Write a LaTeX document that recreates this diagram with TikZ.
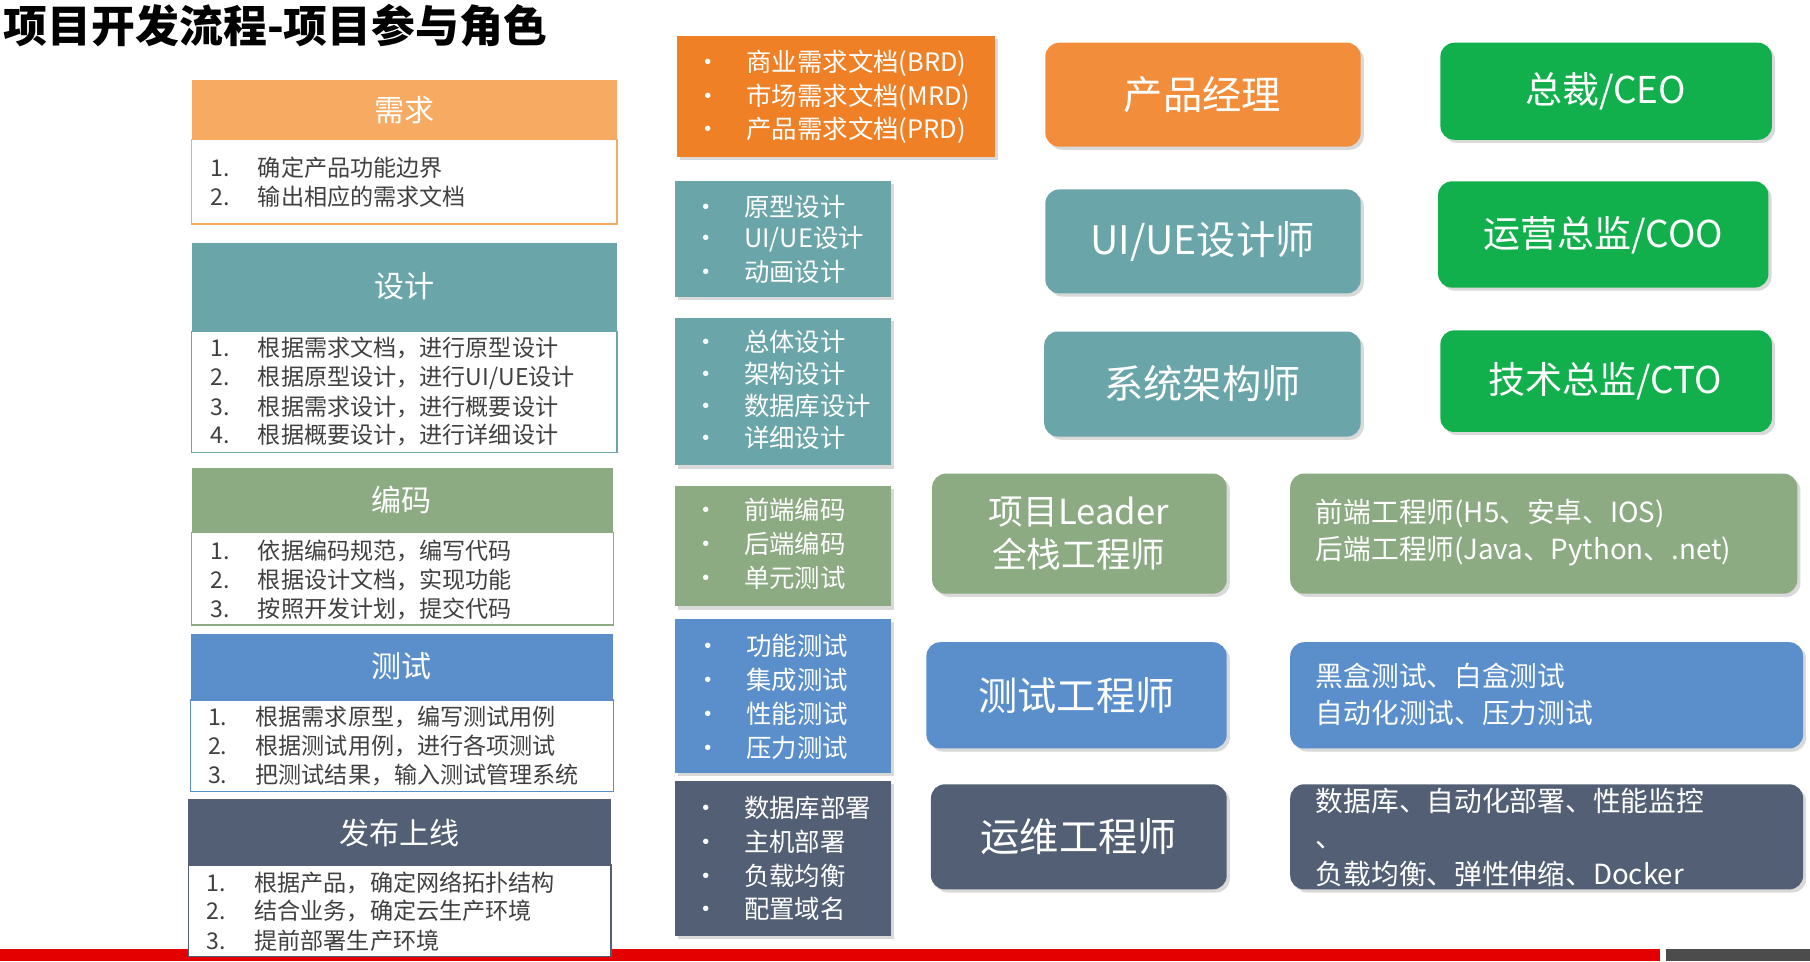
\documentclass[tikz,border=0pt]{standalone}
\usepackage{fontspec}
\setmainfont{Noto Sans CJK SC}
\usetikzlibrary{shadows}
\definecolor{cOrange}{HTML}{F7AA62}
\definecolor{cDeep}{HTML}{F08025}
\definecolor{cTeal}{HTML}{6AA5A9}
\definecolor{cGreen}{HTML}{8CAB82}
\definecolor{cBlue}{HTML}{5B8FCC}
\definecolor{cDark}{HTML}{535F75}
\definecolor{cBoss}{HTML}{12B04C}
\tikzset{
  head/.style={fill=#1, text=white, font=\fontsize{26}{30}\selectfont, inner sep=0pt},
  body/.style={draw=#1, line width=1.2pt, fill=white},
  item/.style={anchor=west, text=black!75, font=\fontsize{20}{22}\selectfont, inner sep=0pt},
  bullets/.style={fill=#1, drop shadow={opacity=0.3}},
  bitem/.style={anchor=west, text=white, font=\fontsize{22}{24}\selectfont, inner sep=0pt},
  role/.style={fill=#1, rounded corners=12pt, drop shadow={opacity=0.3}},
  rtext/.style={text=white, font=\fontsize{34}{36}\selectfont, align=center, inner sep=0pt},
  ltext/.style={text=white, font=\fontsize{24}{32}\selectfont, align=left, anchor=west, inner sep=0pt}
}
\begin{document}
\begin{tikzpicture}[x=1pt,y=-1pt]
\useasboundingbox (0,0) rectangle (1567,832);
% title
\node[anchor=west, font=\fontsize{38}{40}\selectfont\bfseries, inner sep=0pt] (title) at (3,22) {项目开发流程-项目参与角色};
% bottom bar
\fill[red!90!black] (0,822) rectangle (1437,832);
\fill[black!70] (1442,822) rectangle (1567,832);

% left column
\draw[body=cOrange] (166,121) rectangle (534,194);
\fill[cOrange] (166,69) rectangle (534,121);
\node[head=cOrange] (xq) at (350,95) {需求};
\node[item] (xq1) at (182,145) {1.\quad\ 确定产品功能边界};
\node[item] (xq2) at (182,170) {2.\quad\ 输出相应的需求文档};

\draw[body=cTeal] (166,287) rectangle (534,392);
\fill[cTeal] (166,210) rectangle (534,287);
\node[head=cTeal] (sj) at (350,248) {设计};
\node[item] (sj1) at (182,301) {1.\quad\ 根据需求文档，进行原型设计};
\node[item] (sj2) at (182,327) {2.\quad\ 根据原型设计，进行UI/UE设计};
\node[item] (sj3) at (182,352) {3.\quad\ 根据需求设计，进行概要设计};
\node[item] (sj4) at (182,377) {4.\quad\ 根据概要设计，进行详细设计};

\draw[body=cGreen] (166,461) rectangle (531,541);
\fill[cGreen] (166,405) rectangle (531,461);
\node[head=cGreen] (bm) at (348,433) {编码};
\node[item] (bm1) at (182,477) {1.\quad\ 依据编码规范，编写代码};
\node[item] (bm2) at (182,502) {2.\quad\ 根据设计文档，实现功能};
\node[item] (bm3) at (182,527) {3.\quad\ 按照开发计划，提交代码};

\draw[body=cBlue] (165,606) rectangle (531,685);
\fill[cBlue] (165,549) rectangle (531,606);
\node[head=cBlue] (cs) at (348,577) {测试};
\node[item] (cs1) at (180,621) {1.\quad\ 根据需求原型，编写测试用例};
\node[item] (cs2) at (180,646) {2.\quad\ 根据测试用例，进行各项测试};
\node[item] (cs3) at (180,671) {3.\quad\ 把测试结果，输入测试管理系统};

\draw[body=cDark] (163,749) rectangle (529,828);
\fill[cDark] (163,692) rectangle (529,749);
\node[head=cDark] (fb) at (346,721) {发布上线};
\node[item] (fb1) at (179,764) {1.\quad\ 根据产品，确定网络拓扑结构};
\node[item] (fb2) at (179,789) {2.\quad\ 结合业务，确定云生产环境};
\node[item] (fb3) at (179,814) {3.\quad\ 提前部署生产环境};

% middle column
\fill[bullets=cDeep] (586,31) rectangle (861,136);
\foreach \t [count=\i] in {商业需求文档(BRD),市场需求文档(MRD),产品需求文档(PRD)}
  \node[bitem] (doc\i) at (602,26+29*\i) {•\quad \t};
\fill[bullets=cTeal] (584,157) rectangle (771,257);
\foreach \t [count=\i] in {原型设计,UI/UE设计,动画设计}
  \node[bitem] (ux\i) at (600,151+28*\i) {•\quad \t};
\fill[bullets=cTeal] (584,275) rectangle (771,403);
\foreach \t [count=\i] in {总体设计,架构设计,数据库设计,详细设计}
  \node[bitem] (ar\i) at (600,268+27.7*\i) {•\quad \t};
\fill[bullets=cGreen] (584,421) rectangle (771,525);
\foreach \t [count=\i] in {前端编码,后端编码,单元测试}
  \node[bitem] (co\i) at (600,412+29.5*\i) {•\quad \t};
\fill[bullets=cBlue] (584,536) rectangle (771,669);
\foreach \t [count=\i] in {功能测试,集成测试,性能测试,压力测试}
  \node[bitem] (te\i) at (602,530+29.3*\i) {•\quad \t};
\fill[bullets=cDark] (584,676) rectangle (771,810);
\foreach \t [count=\i] in {数据库部署,主机部署,负载均衡,配置域名}
  \node[bitem] (op\i) at (600,670+29.3*\i) {•\quad \t};

% roles
\fill[role=cDeep!90] (905,37) rectangle (1178,127);
\node[rtext] (pm) at (1041,82) {产品经理};
\fill[role=cTeal] (905,164) rectangle (1178,254);
\node[rtext] (ui) at (1041,209) {UI/UE设计师};
\fill[role=cTeal] (904,287) rectangle (1178,378);
\node[rtext] (sa) at (1041,332) {系统架构师};
\fill[role=cGreen] (807,410) rectangle (1062,514);
\node[rtext, font=\fontsize{30}{38}\selectfont] (pl) at (934,462) {项目Leader\\全栈工程师};
\fill[role=cBlue] (802,556) rectangle (1062,648);
\node[rtext] (qa) at (932,602) {测试工程师};
\fill[role=cDark] (806,679) rectangle (1062,770);
\node[rtext] (ops) at (934,724) {运维工程师};

\fill[role=cBoss] (1247,37) rectangle (1534,121);
\node[rtext, font=\fontsize{32}{36}\selectfont] (ceo) at (1390,79) {总裁/CEO};
\fill[role=cBoss] (1245,157) rectangle (1531,249);
\node[rtext, font=\fontsize{32}{36}\selectfont] (coo) at (1388,204) {运营总监/COO};
\fill[role=cBoss] (1247,286) rectangle (1534,374);
\node[rtext, font=\fontsize{32}{36}\selectfont] (cto) at (1390,330) {技术总监/CTO};

\fill[role=cGreen] (1117,410) rectangle (1556,514);
\node[ltext] (dev) at (1139,461) {前端工程师(H5、安卓、IOS)\\后端工程师(Java、Python、.net)};
\fill[role=cBlue] (1117,556) rectangle (1561,648);
\node[ltext] (tst) at (1139,601) {黑盒测试、白盒测试\\自动化测试、压力测试};
\fill[role=cDark] (1117,679) rectangle (1561,770);
\node[ltext] (dep) at (1139,725) {数据库、自动化部署、性能监控\\、\\负载均衡、弹性伸缩、Docker};
\end{tikzpicture}
\end{document}
